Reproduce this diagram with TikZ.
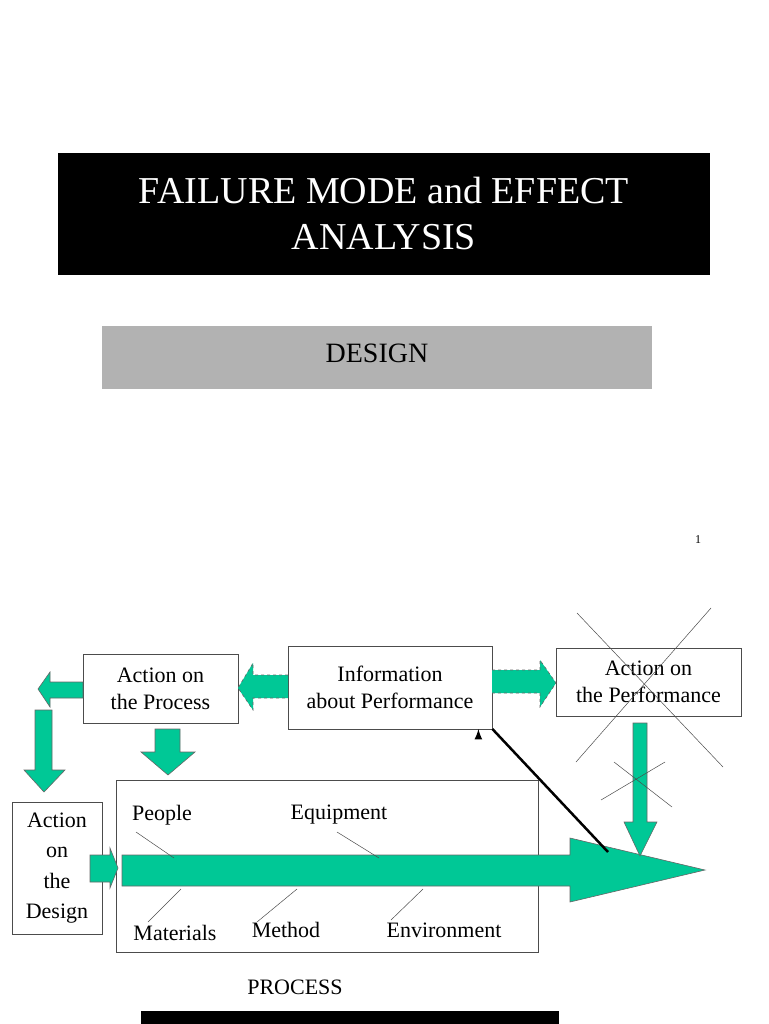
\documentclass[tikz,border=0pt]{standalone}
\usepackage{fontspec}
\setmainfont{Liberation Serif}
\begin{document}
\begin{tikzpicture}[x=1pt,y=-1pt,
 box/.style={draw=black!70,line width=0.8pt,fill=white,inner sep=0pt,align=center,font=\fontsize{22}{27}\selectfont},
 lab/.style={font=\fontsize{22}{26}\selectfont},
 garrow/.style={fill=green!60!cyan!80!black!90,fill=arrowg,draw=black!60,line width=0.6pt},
 thin/.style={draw=black!70,line width=0.5pt}]
\definecolor{arrowg}{HTML}{00C896}
\useasboundingbox (0,0) rectangle (768,1024);
% title
\node[fill=black,minimum width=652pt,minimum height=122pt,text=white,align=center,font=\fontsize{38}{46}\selectfont] (title) at (384,214) {FAILURE MODE and EFFECT\\ANALYSIS};
\node[fill=black!30,minimum width=550pt,minimum height=63pt,font=\fontsize{28}{32}\selectfont,anchor=center] (design) at (377,357.5) {};
\node[font=\fontsize{28}{32}\selectfont] (designt) at (377,353) {DESIGN};
\node[font=\fontsize{12}{14}\selectfont] (num) at (698,540) {1};
% boxes
\node[box,minimum width=155pt,minimum height=69pt] (ap) at (160.5,688.5) {Action on\\the Process};
\node[box,minimum width=204pt,minimum height=83pt] (info) at (390,687.5) {Information\\about Performance};
\node[box,minimum width=185pt,minimum height=68pt] (aperf) at (648.5,682) {Action on\\the Performance};
\node[box,minimum width=90pt,minimum height=132pt,font=\fontsize{22}{30.5}\selectfont] (ad) at (57,868) {Action\\on\\the\\Design};
\node[draw=black!70,line width=0.8pt,minimum width=422pt,minimum height=172pt] (proc) at (327,866) {};
\node[font=\fontsize{22}{26}\selectfont] (ptext) at (295,987) {PROCESS};
\fill[black] (141,1011) rectangle (559,1024);
\coordinate (bar) at (350,1017);
% arrows
\draw[garrow] (122,855) -- (570,855) -- (570,838) -- (705,870) -- (570,902) -- (570,886) -- (122,886) -- cycle;
\draw[garrow] (90,855) -- (110,855) -- (110,848) -- (118,868) -- (110,888) -- (110,882) -- (90,882) -- cycle;
\draw[garrow] (83,682) -- (50,682) -- (50,672) -- (38,689) -- (50,707) -- (50,698) -- (83,698) -- cycle;
\draw[garrow] (35,710) -- (52,710) -- (52,770) -- (65,770) -- (44,792) -- (24,770) -- (35,770) -- cycle;
\draw[garrow] (155,729) -- (180,729) -- (180,752) -- (195,752) -- (168,775) -- (141,752) -- (155,752) -- cycle;
\draw[garrow,dashed] (288,675) -- (253,675) -- (253,663) -- (238,688) -- (253,710) -- (253,698) -- (288,698);
\draw[garrow,dashed] (492,670) -- (540,670) -- (540,660) -- (556,683) -- (540,707) -- (540,693) -- (492,693);
\draw[garrow] (633,723) -- (647,723) -- (647,822) -- (657,822) -- (640,856) -- (624,822) -- (633,822) -- cycle;
\coordinate (bt) at (608,852);
\draw[-latex,line width=2.5pt] (bt) -- (info.south east |- 0,729) ++(-14,0) coordinate (it);
% crosses
\draw[thin] (577,613) -- (723,767);
\draw[thin] (711,608) -- (576,762);
\draw[thin] (614,762) -- (672,807);
\draw[thin] (665,762) -- (601,800);
% labels
\node[lab] (people) at (162,815) {People};
\node[lab] (equip) at (339,815) {Equipment};
\node[lab] (mat) at (175,933) {Materials};
\node[lab] (meth) at (286,930) {Method};
\node[lab] (env) at (444,930) {Environment};
\draw[thin] (136,832) -- (174,858);
\draw[thin] (337,832) -- (379,858);
\draw[thin] (181,889) -- (148,922);
\draw[thin] (297,889) -- (257,922);
\draw[thin] (423,889) -- (391,920);
\end{tikzpicture}
\end{document}
